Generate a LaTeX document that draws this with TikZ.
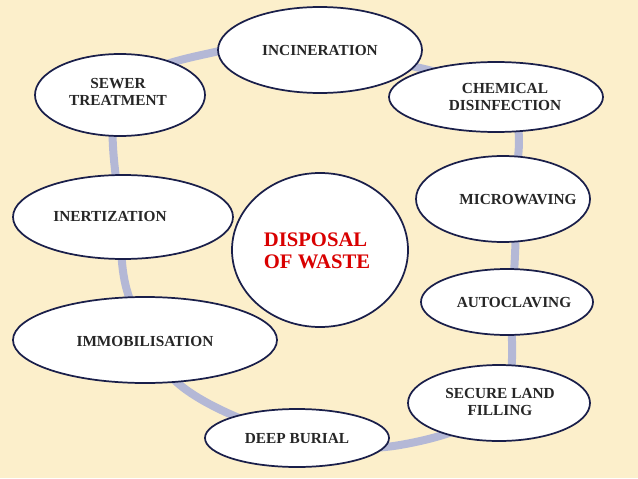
\documentclass[tikz,border=0pt]{standalone}
\usepackage{fontspec}
\setmainfont{Liberation Serif}
\usetikzlibrary{shapes.geometric}
\definecolor{bg}{HTML}{FCEFCB}
\definecolor{ring}{HTML}{B4B8D6}
\definecolor{bd}{HTML}{1A1F4A}
\begin{document}
\begin{tikzpicture}[x=0.75pt,y=-0.75pt,
  ov/.style={ellipse,draw=bd,line width=1.3pt,fill=white,inner sep=0pt},
  tx/.style={align=center,font=\bfseries\fontsize{11.5}{12.5}\selectfont,text=black!85},
]
\fill[bg] (0,0) rectangle (638,478);
\useasboundingbox (0,0) rectangle (638,478);
\draw[line width=6pt,color=ring] plot[smooth cycle,tension=0.6] coordinates{(320,50)(500,97)(515,199)(512,302)(500,403)(400,445)(297,438)(180,385)(130,300)(120,217)(120,95)(215,52)};
\node[ov,minimum width=204*0.75pt,minimum height=86*0.75pt] (inc) at (320,50) {};
\node[tx] at (320,50) {INCINERATION};
\node[ov,minimum width=214*0.75pt,minimum height=70*0.75pt] (che) at (496,97) {};
\node[tx] at (505,97) {CHEMICAL\\DISINFECTION};
\node[ov,minimum width=174*0.75pt,minimum height=86*0.75pt] (mic) at (503,199) {};
\node[tx] at (518,200) {MICROWAVING};
\node[ov,minimum width=172*0.75pt,minimum height=66*0.75pt] (aut) at (507,302) {};
\node[tx] at (514,303) {AUTOCLAVING};
\node[ov,minimum width=182*0.75pt,minimum height=76*0.75pt] (sec) at (499,403) {};
\node[tx] at (500,402) {SECURE LAND\\FILLING};
\node[ov,minimum width=184*0.75pt,minimum height=58*0.75pt] (dee) at (297,438) {};
\node[tx] at (297,439) {DEEP BURIAL};
\node[ov,minimum width=264*0.75pt,minimum height=86*0.75pt] (imm) at (145,340) {};
\node[tx] at (145,341) {IMMOBILISATION};
\node[ov,minimum width=220*0.75pt,minimum height=84*0.75pt] (ine) at (123,217) {};
\node[tx] at (110,216) {INERTIZATION};
\node[ov,minimum width=170*0.75pt,minimum height=82*0.75pt] (sew) at (120,95) {};
\node[tx] at (118,92) {SEWER\\TREATMENT};
\node[ov,minimum width=176*0.75pt,minimum height=154*0.75pt] (dis) at (320,250) {};
\node[text=red!85!black,align=left,font=\bfseries\fontsize{15.5}{16.5}\selectfont] at (317,251) {DISPOSAL\\OF WASTE};
\end{tikzpicture}
\end{document}
